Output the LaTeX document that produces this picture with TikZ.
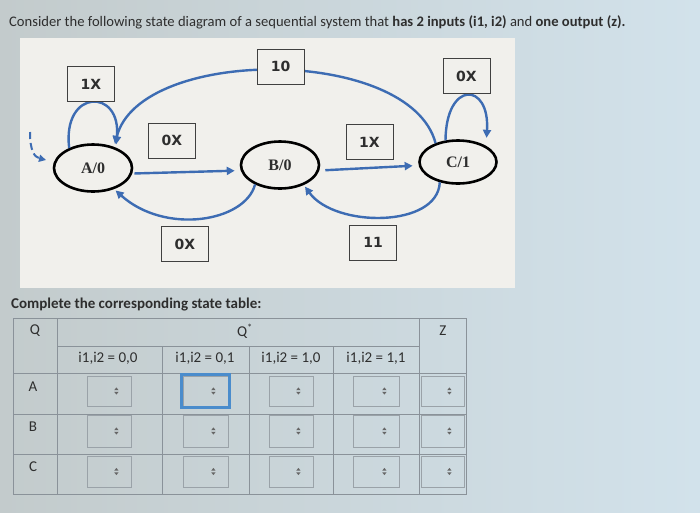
\documentclass[tikz,border=0pt]{standalone}
\usepackage{fontspec}
\setmainfont{Carlito}
\newfontfamily\boxfont{DejaVu Sans}
\newfontfamily\statefont{Liberation Serif}
\usetikzlibrary{arrows.meta,shapes.geometric}
\definecolor{arrowblue}{HTML}{3D6CB3}
\definecolor{panel}{HTML}{F1F0EC}
\definecolor{bgleft}{HTML}{C3CBCC}
\definecolor{bgright}{HTML}{D2E2EB}
\definecolor{tabline}{HTML}{8A9299}
\definecolor{selline}{HTML}{9AA2A8}
\definecolor{hlblue}{HTML}{4A8CCC}
\definecolor{txt}{HTML}{2E2E2E}
\begin{document}
\begin{tikzpicture}[x=1pt,y=-1pt,
  statenode/.style={ellipse,draw=black,line width=2.6pt,fill=panel,minimum width=78,minimum height=47,inner sep=0,font=\statefont\bfseries\fontsize{16}{16}\selectfont,text=txt},
  lblbox/.style={draw=black!75,line width=0.8pt,fill=panel,minimum width=47,minimum height=35,inner sep=0,font=\boxfont\bfseries\fontsize{14}{14}\selectfont,text=txt},
  conn/.style={draw=arrowblue,line width=2.4pt,-{Triangle[length=8pt,width=8pt]}},
  selbox/.style={draw=selline,line width=0.8pt,inner sep=0},
  tabtext/.style={text=txt,font=\fontsize{15}{16}\selectfont},
  updown/.pic={\fill[black!60] (-2.2,-0.8) -- (2.2,-0.8) -- (0,-3.6) -- cycle;
               \fill[black!60] (-2.2,0.8) -- (2.2,0.8) -- (0,3.6) -- cycle;}
]
\useasboundingbox (0,0) rectangle (700,512);
\shade[left color=bgleft,right color=bgright] (0,0) rectangle (700,512);
\fill[panel] (20,38) rectangle (515,288);

% title
\node[anchor=west,text=txt,font=\fontsize{14.6}{15}\selectfont,inner sep=0] (title) at (9,22)
  {Consider the following state diagram of a sequential system that \textbf{has 2 inputs (i1, i2)} and \textbf{one output (z).}};

% states
\node[statenode] (A) at (93,168) {A/0};
\node[statenode] (B) at (280,165) {B/0};
\node[statenode,minimum width=77,minimum height=43] (C) at (458,162) {C/1};

% initial arrow
\coordinate (initS) at (30,132);
\coordinate (initE) at (46,160);
\draw[conn,dash pattern=on 7pt off 4pt,line width=2pt,-{Triangle[length=7pt,width=7pt]}] (initS) .. controls (30,150) and (34,157) .. (initE);

% transitions
\draw[conn,shorten >=3pt] (A.140) .. controls (62,88) and (122,88) .. (A.42);
\draw[conn,shorten >=3pt] (C.140) .. controls (410,46) and (140,46) .. (A.45);
\draw[conn,shorten <=2pt,shorten >=6pt] (A.-8) -- (B.188);
\draw[conn,shorten >=2pt] (B.218) .. controls (245,222) and (165,235) .. (A.-45);
\draw[conn,shorten <=6pt,shorten >=6pt] (B.-8) -- (C.185);
\draw[conn,shorten >=2pt] (C.228) .. controls (438,228) and (335,228) .. (B.-40);
\draw[conn,shorten >=8pt] (C.120) .. controls (446,80) and (490,82) .. (C.30);

% labels
\node[lblbox] (l1X) at (91,84) {1X};
\node[lblbox] (l10) at (280.5,66.5) {10};
\node[lblbox] (l0Xa) at (172,140.5) {0X};
\node[lblbox] (l0Xb) at (185,244) {0X};
\node[lblbox] (l1Xb) at (369.5,142) {1X};
\node[lblbox] (l0Xc) at (466.5,76) {0X};
\node[lblbox] (l11) at (373,242.5) {11};

% table heading
\node[anchor=west,text=txt,font=\bfseries\fontsize{15}{16}\selectfont,inner sep=0] (ttl) at (11,304) {Complete the corresponding state table:};

% table grid
\begin{scope}[draw=tabline,line width=0.9pt]
\draw (13,318) rectangle (466,494);
\draw (57,318) -- (57,494);
\draw (419,318) -- (419,494);
\draw (57,346) -- (419,346);
\foreach \x in {162,249,333} \draw (\x,346) -- (\x,494);
\foreach \y in {373,414,454} \draw (13,\y) -- (466,\y);
\end{scope}

% table texts
\node[tabtext] (hQ) at (35,331) {Q};
\node[tabtext] (hQs) at (245,331) {Q\textsuperscript{*}};
\node[tabtext] (hZ) at (443,331) {Z};
\node[tabtext] (h00) at (108,358) {i1,i2 = 0,0};
\node[tabtext] (h01) at (205,358) {i1,i2 = 0,1};
\node[tabtext] (h10) at (291,358) {i1,i2 = 1,0};
\node[tabtext] (h11) at (376,358) {i1,i2 = 1,1};
\node[tabtext] (rA) at (33,387) {A};
\node[tabtext] (rB) at (33,427) {B};
\node[tabtext] (rC) at (33,467) {C};

% select boxes
\foreach \r/\y/\h in {A/391/30,B/431/32,C/471.5/31}{
  \foreach \c/\x/\w in {1/109/44,2/205.5/45,3/291/44,4/376/46,z/442.5/43}{
    \node[selbox,minimum width=\w,minimum height=\h] (s\r\c) at (\x,\y) {};
    \pic at ([xshift=-15pt]s\r\c.east) {updown};
  }
}
\node[draw=hlblue,line width=2.6pt,minimum width=48,minimum height=33,inner sep=0] (sA2hl) at (sA2) {};
\end{tikzpicture}
\end{document}
